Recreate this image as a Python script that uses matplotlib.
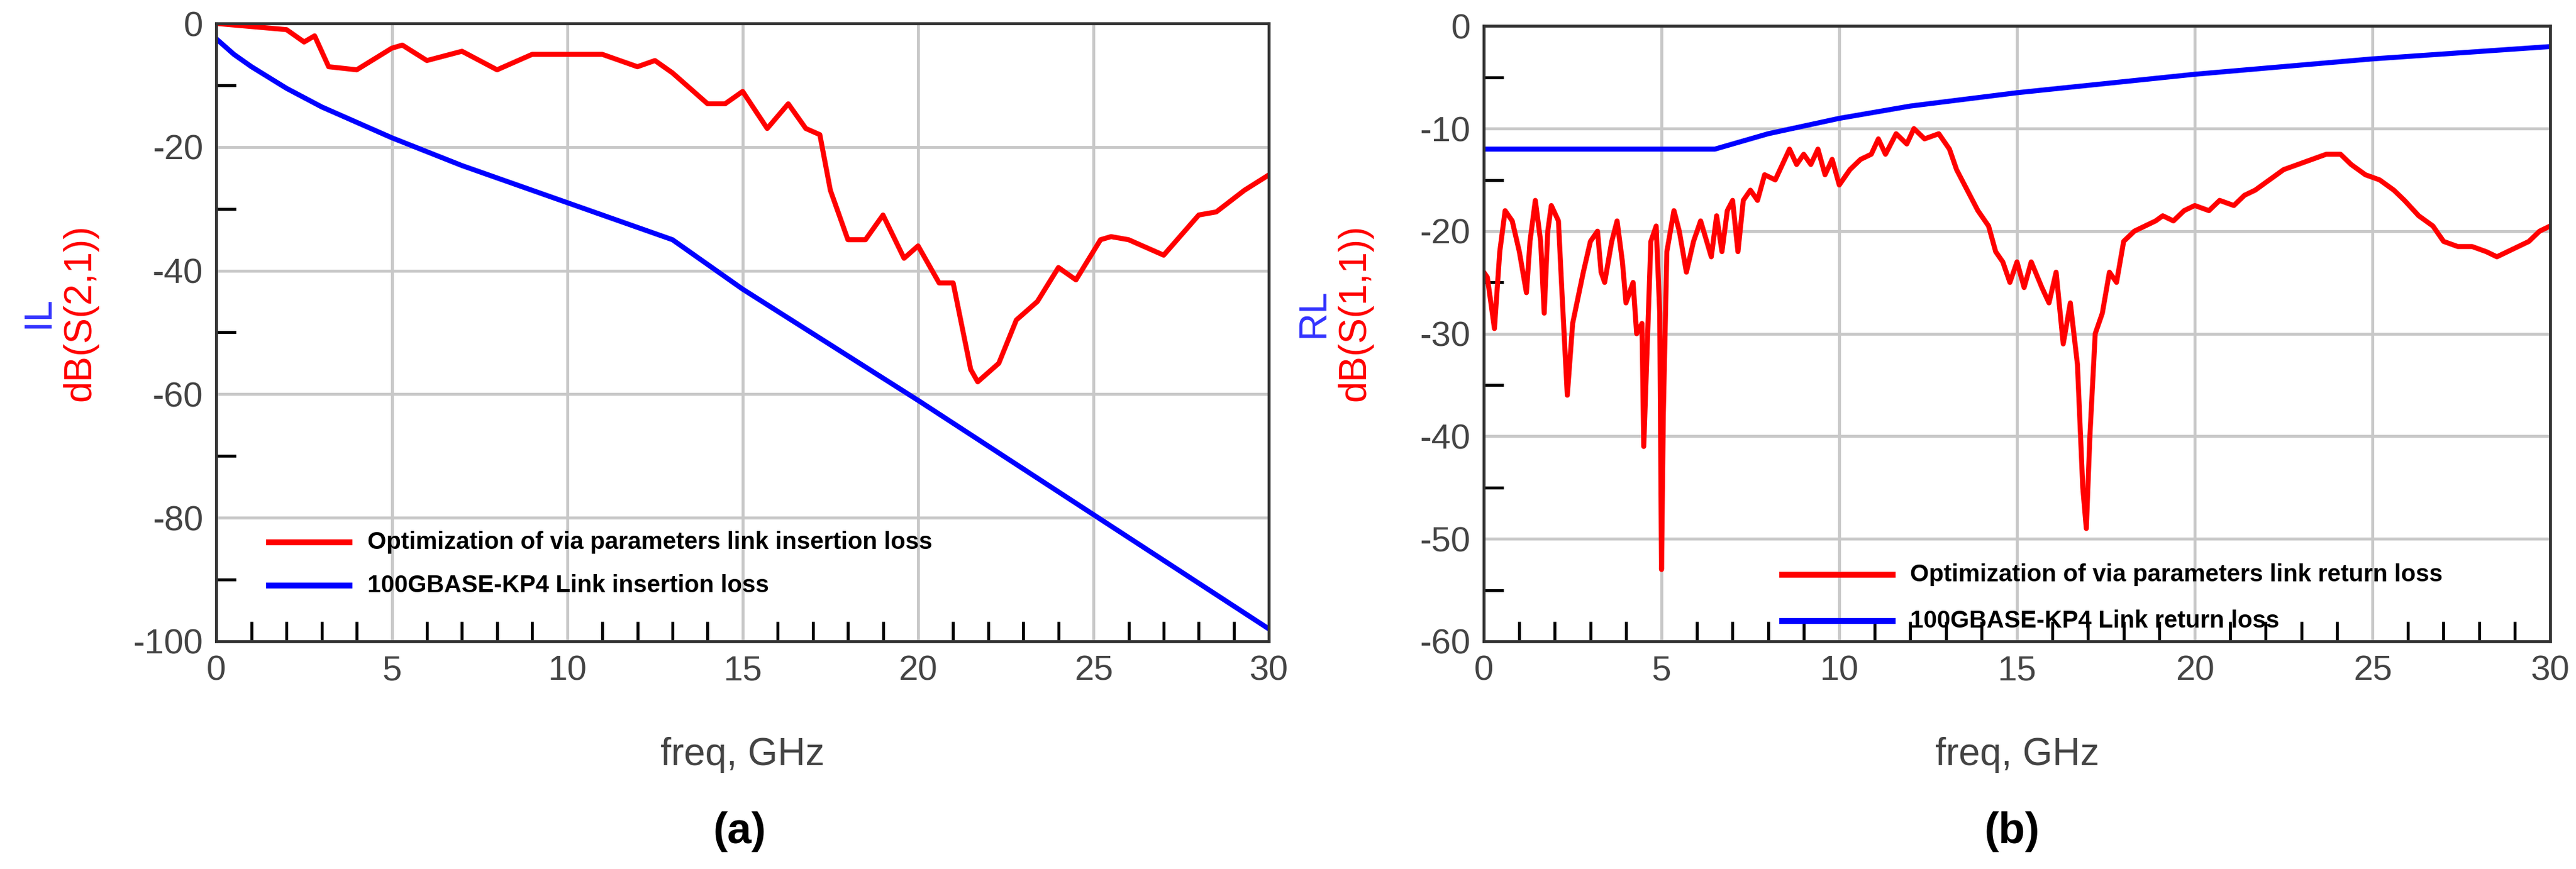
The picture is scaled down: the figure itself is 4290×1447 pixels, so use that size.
import matplotlib
matplotlib.use("Agg")
import matplotlib.pyplot as plt
from matplotlib.ticker import MultipleLocator

il_red_f = [0,1,2,2.5,2.8,3.2,4,5,5.3,6,7,8,9,10,11,12,12.5,13,14,14.5,15,15.7,16.3,16.8,17.2,17.5,18,18.5,19,19.6,20,20.6,21,21.5,21.7,22.3,22.8,23.4,24,24.5,25.2,25.5,26,27,28,28.5,29.3,30]
il_red_v = [0,-0.5,-1,-3,-2,-7,-7.5,-4,-3.5,-6,-4.5,-7.5,-5,-5,-5,-7,-6,-8,-13,-13,-11,-17,-13,-17,-18,-27,-35,-35,-31,-38,-36,-42,-42,-56,-58,-55,-48,-45,-39.5,-41.5,-35,-34.5,-35,-37.5,-31,-30.5,-27,-24.5]
il_blue_f = [0,0.5,1,2,3,5,7,10,12,13,14,15,20,25,30]
il_blue_v = [-2.5,-5,-7,-10.5,-13.5,-18.5,-23,-29,-33,-35,-39,-43,-61,-79.5,-98]

rl_blue_f = [0,6.5,8,10,12,15,20,25,30]
rl_blue_v = [-12,-12,-10.5,-9,-7.8,-6.5,-4.7,-3.2,-2]
rl_red_f = [0,0.1,0.3,0.45,0.6,0.8,1.0,1.2,1.3,1.45,1.6,1.7,1.8,1.9,2.1,2.2,2.35,2.5,2.8,3.0,3.2,3.3,3.4,3.6,3.75,3.9,4.0,4.2,4.3,4.45,4.5,4.7,4.85,4.95,5.0,5.05,5.15,5.35,5.5,5.7,5.9,6.1,6.4,6.55,6.7,6.85,7.0,7.15,7.3,7.5,7.7,7.9,8.2,8.4,8.6,8.8,9.0,9.2,9.4,9.6,9.8,10.0,10.3,10.6,10.9,11.1,11.3,11.6,11.9,12.1,12.4,12.8,13.1,13.3,13.6,13.9,14.2,14.4,14.6,14.8,15.0,15.2,15.4,15.7,15.9,16.1,16.3,16.5,16.7,16.85,16.95,17.05,17.2,17.4,17.6,17.8,18.0,18.3,18.6,18.9,19.1,19.4,19.7,20.0,20.4,20.7,21.1,21.4,21.7,22.1,22.5,22.9,23.3,23.7,24.1,24.4,24.8,25.2,25.6,25.9,26.3,26.7,27.0,27.4,27.8,28.2,28.5,28.8,29.1,29.4,29.7,30]
rl_red_v = [-24,-24.5,-29.5,-22,-18,-19,-22,-26,-21,-17,-21,-28,-20,-17.5,-19,-26,-36,-29,-24,-21,-20,-24,-25,-21,-19,-23,-27,-25,-30,-29,-41,-21,-19.5,-28,-53,-38,-22,-18,-20,-24,-21,-19,-22.5,-18.5,-22,-18,-17,-22,-17,-16,-17,-14.5,-15,-13.5,-12,-13.5,-12.5,-13.5,-12,-14.5,-13,-15.5,-14,-13,-12.5,-11,-12.5,-10.5,-11.5,-10,-11,-10.5,-12,-14,-16,-18,-19.5,-22,-23,-25,-23,-25.5,-23,-25.5,-27,-24,-31,-27,-33,-45,-49,-40,-30,-28,-24,-25,-21,-20,-19.5,-19,-18.5,-19,-18,-17.5,-18,-17,-17.5,-16.5,-16,-15,-14,-13.5,-13,-12.5,-12.5,-13.5,-14.5,-15,-16,-17,-18.5,-19.5,-21,-21.5,-21.5,-22,-22.5,-22,-21.5,-21,-20,-19.5]

plt.rcParams['font.family'] = ['Liberation Sans', 'DejaVu Sans']
plt.rcParams['axes.unicode_minus'] = False
fig = plt.figure(figsize=(42.9, 14.47), dpi=100)
axA = fig.add_axes([0.084, 0.262, 0.4086, 0.711])
axB = fig.add_axes([0.576, 0.262, 0.414, 0.708])
RED, BLUE = '#ff0000', '#0000ff'

def style(ax, ymin, ymax, ymaj, ymin_step):
    ax.set_xlim(0, 30); ax.set_ylim(ymin, ymax)
    ax.xaxis.set_major_locator(MultipleLocator(5))
    ax.xaxis.set_minor_locator(MultipleLocator(1))
    ax.yaxis.set_major_locator(MultipleLocator(ymaj))
    ax.yaxis.set_minor_locator(MultipleLocator(ymin_step))
    ax.grid(True, which='major', color='#c8c8c8', lw=3.5)
    ax.tick_params(which='both', direction='in', length=24, width=3.5, labelsize=42, labelcolor='#444444', pad=16)
    ax.tick_params(which='major', length=0)
    for s in ax.spines.values():
        s.set_linewidth(3.5); s.set_color('#333333')
    ax.set_xlabel('freq, GHz', fontsize=46, color='#444444', labelpad=60)

axA.plot(il_red_f, il_red_v, color=RED, lw=6)
axA.plot(il_blue_f, il_blue_v, color=BLUE, lw=6)
style(axA, -100, 0, 20, 10)
axA.plot([1.5, 3.8], [-84, -84], color=RED, lw=7)
axA.plot([1.5, 3.8], [-91, -91], color=BLUE, lw=7)
axA.text(4.3, -84, 'Optimization of via parameters link insertion loss', fontsize=29, fontweight='bold', va='center')
axA.text(4.3, -91, '100GBASE-KP4 Link insertion loss', fontsize=29, fontweight='bold', va='center')

axB.plot(rl_red_f, rl_red_v, color=RED, lw=6)
axB.plot(rl_blue_f, rl_blue_v, color=BLUE, lw=6)
style(axB, -60, 0, 10, 5)
axB.plot([8.4, 11.5], [-53.5, -53.5], color=RED, lw=7)
axB.plot([8.4, 11.5], [-58, -58], color=BLUE, lw=7)
axB.text(12.0, -53.5, 'Optimization of via parameters link return loss', fontsize=29, fontweight='bold', va='center')
axB.text(12.0, -58, '100GBASE-KP4 Link return loss', fontsize=29, fontweight='bold', va='center')

for x0, top, bot in [(0.008, 'IL', 'dB(S(2,1))'), (0.503, 'RL', 'dB(S(1,1))')]:
    fig.text(x0, 0.64, top, rotation=90, color='#3333ff', fontsize=46, ha='left', va='center')
    fig.text(x0 + 0.016, 0.64, bot, rotation=90, color=RED, fontsize=46, ha='left', va='center')

fig.text(0.287, 0.03, '(a)', fontsize=52, fontweight='bold', ha='center')
fig.text(0.781, 0.03, '(b)', fontsize=52, fontweight='bold', ha='center')
fig.savefig('out.png', dpi=100)
